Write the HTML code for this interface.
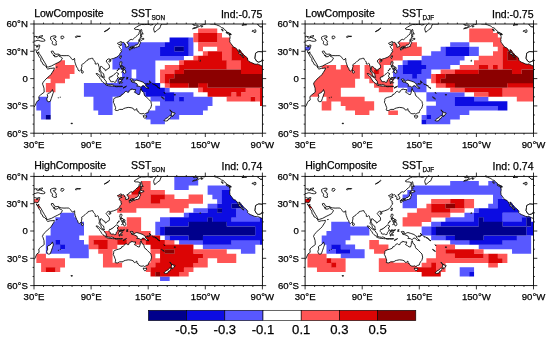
<!DOCTYPE html>
<html><head><meta charset="utf-8"><title>SST composites</title>
<style>
html,body{margin:0;padding:0;background:#fff}
svg{display:block}
text{font-family:"Liberation Sans",Arial,Helvetica,sans-serif;fill:#000;stroke:#000;stroke-width:0.25px}
.tt{font-size:10.5px}
.sb{font-size:6.3px}
.tk{font-size:9.6px}
.cb{font-size:13.1px}
</style></head><body>
<svg width="550" height="340" viewBox="0 0 550 340">
<rect width="550" height="340" fill="#fff"/>
<defs>
<clipPath id="clip"><rect x="0" y="0" width="228.4" height="109.2"/></clipPath>
<g id="land">
<path d="M-9.5 87.4 0.0 83.1 1.0 81.8 2.5 78.3 2.8 77.6 5.1 76.0 4.8 72.6 6.6 70.9 10.2 68.2 10.0 64.2 8.9 60.8 8.4 60.1 9.2 58.2 10.9 56.2 13.3 53.7 15.2 52.3 17.1 50.3 18.1 48.7 19.8 46.0 20.2 45.0 20.3 43.9 18.1 44.3 16.2 44.4 13.8 45.1 12.7 44.1 12.4 43.0 10.5 41.1 9.0 40.5 8.2 38.2 6.9 37.3 6.7 34.6 5.2 32.8 3.8 30.0 2.6 28.2 2.4 27.4 3.4 29.1 4.1 29.3 4.7 27.8 4.8 29.1 6.9 31.9 8.6 35.0 10.5 38.2 12.2 41.0 12.7 43.0 14.3 43.0 17.6 41.9 21.1 40.0 23.8 38.7 26.4 37.3 27.4 35.9 28.4 34.1 27.2 33.1 25.2 32.3 25.1 30.7 24.7 30.9 23.3 32.6 20.6 32.8 20.6 30.9 19.8 32.0 19.2 30.5 17.9 29.1 17.1 27.5 18.0 27.0 19.3 27.3 20.0 29.1 21.9 30.3 24.7 30.0 25.7 31.2 27.6 31.5 30.0 31.7 32.8 31.6 34.8 31.7 35.5 32.2 36.4 33.1 37.1 34.2 38.4 35.7 40.0 35.3 40.5 34.3 40.7 35.5 40.7 37.3 41.2 39.1 41.9 41.1 42.6 43.0 43.6 44.3 44.1 46.0 45.2 47.2 45.9 46.5 46.6 46.1 47.4 45.2 47.5 43.7 47.9 42.6 47.7 40.7 48.7 40.0 49.8 39.4 50.9 38.4 52.3 37.0 53.8 36.2 54.2 35.1 55.4 34.9 56.1 34.8 57.6 34.3 58.8 34.3 59.3 35.8 60.4 36.9 61.2 38.2 61.2 40.0 62.1 40.2 63.6 39.3 64.3 39.8 64.5 41.0 64.9 42.3 65.3 43.7 65.4 45.2 65.0 47.0 66.2 48.4 66.9 49.3 67.3 51.0 67.9 52.0 69.0 52.8 69.9 53.3 70.6 53.3 69.9 52.1 69.9 51.0 69.5 49.6 68.6 49.0 67.6 48.3 67.0 48.0 66.6 46.4 66.0 46.1 66.0 45.0 66.4 43.9 66.6 42.4 67.6 42.5 68.8 43.5 69.5 44.6 70.9 45.0 71.4 46.7 72.8 45.8 73.3 45.0 75.2 44.1 75.5 42.8 75.2 41.0 74.0 39.6 72.8 38.2 72.1 37.0 73.0 35.9 74.2 34.9 75.8 35.0 76.1 36.1 76.6 35.2 77.8 34.9 79.6 34.4 80.9 33.9 82.8 33.1 84.4 32.0 85.4 30.9 86.3 29.1 87.4 27.8 87.6 26.8 86.6 26.4 87.5 25.7 86.5 24.6 85.6 23.3 84.9 22.8 85.9 21.7 88.0 20.9 87.6 20.5 86.4 20.2 84.7 20.7 83.7 19.8 83.5 19.1 84.9 18.7 86.6 17.5 87.6 17.7 86.8 19.1 87.3 19.2 88.5 18.5 89.7 18.3 90.6 19.4 90.1 20.0 91.4 20.3 91.8 21.1 91.6 22.6 91.8 23.3 93.0 22.9 94.4 22.6 94.7 21.4 94.4 20.5 93.5 19.4 92.8 18.4 94.9 17.4 94.9 16.6 95.8 16.1 97.1 15.3 98.5 15.7 100.4 14.1 101.8 12.7 103.3 11.4 105.0 10.0 105.2 8.2 106.0 7.0 105.8 6.1 104.0 5.5 102.3 5.5 101.8 5.6 100.1 4.7 102.3 3.2 105.2 1.4 107.5 0.5 110.4 0.6 113.2 0.3 115.6 0.6 116.6 1.0 119.0 0.5 120.7 -1.4 123.7 -1.4 120.4 2.7 119.6 5.0 120.5 8.2 122.1 7.3 123.7 5.5 125.6 4.5 126.4 2.7 126.9 0.9 128.5 0.0 133.2 0.0 135.1 -1.8 135.1 -7.3 -9.5 -7.3 -9.5 21.3 -2.4 21.2 -1.0 21.7 0.0 21.6 0.6 21.1 1.4 21.3 2.4 21.7 3.4 21.7 4.4 21.1 5.8 21.2 5.7 22.0 5.5 22.8 5.2 23.7 4.8 24.8 4.4 25.7 4.0 26.1 3.0 26.3 2.2 26.2 1.4 25.9 0.3 26.1 -1.0 26.5 -9.5 25.9Z M230.8 42.9 228.4 42.2 226.2 41.2 224.6 40.4 223.5 39.9 222.2 40.3 220.6 40.0 219.0 39.3 217.5 38.6 216.3 38.2 214.8 37.3 213.5 36.0 213.8 35.0 212.8 33.5 211.3 32.0 209.9 31.3 208.5 29.2 207.3 28.2 206.7 27.0 206.0 26.1 204.8 25.7 204.8 26.4 206.0 28.2 206.7 29.1 208.1 30.9 209.1 32.6 209.8 33.6 209.5 33.8 209.1 33.2 207.4 32.1 207.2 30.9 205.8 30.2 204.5 29.3 205.5 28.7 203.8 26.9 203.1 25.6 202.5 24.8 201.4 23.7 199.4 23.2 199.1 22.2 198.0 21.3 197.5 20.2 196.9 19.7 196.3 18.7 195.7 17.8 195.9 16.7 195.6 15.7 196.0 14.0 196.0 12.6 195.4 10.6 197.3 10.7 196.8 9.7 195.3 9.1 193.2 8.2 192.7 7.7 192.2 6.8 190.8 5.9 190.0 5.2 189.4 4.1 187.5 3.6 186.5 2.7 185.1 1.8 184.1 1.5 182.7 0.9 181.1 0.5 179.9 0.0 177.0 0.0 175.1 -0.5 173.2 -0.7 171.9 -0.1 169.6 0.7 169.9 -0.5 168.4 -0.9 168.4 0.5 167.5 1.1 165.6 2.3 163.7 3.2 161.8 4.1 159.9 4.5 158.5 4.8 159.9 3.8 161.3 3.6 163.2 2.7 164.2 1.4 163.2 1.1 161.8 1.2 159.7 1.3 160.1 0.5 158.0 0.0 158.0 -7.3 224.1 -7.3 224.1 0.0 223.9 0.9 224.4 1.1 225.7 2.3 226.1 2.7 228.4 2.8 236.0 3.6 236.0 28.2 228.4 28.0 227.0 27.8 224.8 27.6 223.8 27.9 221.5 29.3 221.4 30.9 221.0 34.3 222.6 37.1 224.2 38.0 226.0 37.7 227.9 36.6 228.1 35.5 228.4 35.3 236.0 35.0 236.0 43.2Z M80.1 74.4 82.6 73.3 84.7 72.8 87.1 71.9 87.8 70.3 89.0 70.3 89.9 69.2 91.2 67.6 92.3 67.3 93.5 68.2 94.7 68.2 95.4 66.4 95.9 65.9 97.5 65.6 97.6 64.9 99.9 65.7 101.6 65.5 101.4 66.9 100.4 68.2 102.3 69.2 104.0 70.5 105.4 70.5 106.2 68.2 106.3 66.0 107.1 64.3 108.0 67.2 109.0 67.6 109.8 68.7 110.4 71.0 110.7 71.8 112.0 72.6 113.5 74.2 115.0 75.7 116.9 77.6 117.3 79.6 117.6 80.7 117.1 82.8 116.6 84.2 115.4 85.4 114.4 87.4 114.2 88.6 112.3 89.1 110.8 90.2 109.3 89.4 108.0 89.9 106.1 89.5 104.5 88.3 104.2 87.2 103.0 86.9 102.8 84.6 101.8 85.5 100.9 86.3 100.2 86.0 99.2 84.4 97.1 83.7 94.2 83.4 91.4 84.0 89.5 84.6 89.0 85.4 85.6 85.4 83.7 86.5 81.8 86.4 80.9 85.8 81.5 84.9 81.6 83.5 80.9 81.9 80.1 79.6 79.3 78.3 79.7 76.4 79.7 75.2Z M109.2 91.6 110.9 92.0 112.5 91.7 112.6 93.0 111.8 93.9 110.6 94.3 109.7 93.3Z M135.8 85.9 137.0 86.7 137.8 88.1 138.8 88.1 139.1 88.8 140.8 88.8 141.1 89.7 139.9 90.4 139.8 91.0 138.9 92.3 138.0 92.4 137.8 91.8 138.2 91.1 137.7 90.8 136.8 90.4 137.6 89.8 137.7 88.5 137.2 87.6 136.1 86.6Z M135.8 91.5 136.9 91.8 137.3 92.6 136.1 93.7 135.9 94.5 134.5 94.9 134.0 96.4 132.9 96.9 131.6 97.0 129.9 96.5 130.9 95.4 131.8 94.6 133.7 93.7 134.7 92.6 135.3 91.9Z M96.1 55.3 97.5 55.0 99.0 55.3 99.2 56.9 99.9 57.6 101.4 56.6 102.8 56.1 105.3 56.9 106.1 57.1 108.0 57.8 109.3 58.2 110.4 59.6 111.8 60.1 112.1 60.7 111.3 60.8 112.1 61.9 112.9 62.8 114.0 63.6 115.0 64.0 114.2 64.3 112.3 63.9 111.3 63.2 110.4 62.1 109.0 61.6 108.0 62.2 107.5 63.0 106.1 63.0 105.2 62.2 103.7 62.1 102.8 62.2 103.5 61.0 102.8 59.6 100.9 58.8 99.0 58.1 98.0 58.2 97.8 57.6 97.1 57.2 98.5 56.9 97.4 56.6 96.3 55.9Z M75.1 53.9 75.8 52.8 77.1 53.1 77.5 52.1 79.0 51.7 79.9 50.5 81.4 49.6 82.5 48.3 83.5 48.9 83.5 49.2 84.9 49.9 83.9 50.6 83.4 51.4 83.6 52.8 84.7 53.7 83.7 53.9 83.3 55.1 82.3 56.0 82.1 57.3 81.8 58.1 80.5 58.3 79.5 57.6 77.8 57.8 76.3 57.2 76.2 56.1 75.2 55.1Z M62.1 49.5 64.2 49.9 65.4 51.2 66.9 52.3 68.0 53.1 69.5 54.0 70.2 54.6 70.9 56.2 72.3 57.3 72.2 59.9 71.6 59.9 70.9 59.7 68.8 58.2 67.6 56.9 66.9 55.4 65.8 54.3 65.4 53.1 64.0 51.7 62.3 50.2Z M71.6 60.8 72.4 60.0 74.5 60.6 76.6 60.9 77.1 60.5 78.7 60.9 80.3 61.6 80.3 62.4 78.5 62.2 76.1 62.0 74.2 61.7 72.7 61.3Z M80.9 62.1 82.8 62.2 84.7 62.2 86.6 62.2 88.5 62.2 88.5 62.6 85.6 62.7 84.2 62.6 82.8 62.8 80.9 62.5Z M89.0 64.0 90.4 63.0 92.5 62.2 91.4 63.1 89.5 64.0Z M85.2 59.6 85.2 57.8 84.5 57.1 85.5 54.6 85.6 53.9 86.6 53.4 88.5 53.8 90.4 53.1 89.9 54.2 87.1 54.1 85.8 54.3 85.7 55.4 87.1 55.4 88.8 55.4 88.4 56.1 87.4 56.3 87.1 57.1 87.8 57.8 88.5 58.7 88.0 59.4 87.4 59.0 86.8 57.8 86.4 57.1 86.0 57.5 86.0 59.6Z M92.8 55.3 92.9 53.0 93.5 53.5 94.0 53.2 93.5 54.3 93.7 55.1 93.2 54.4Z M86.2 37.8 87.7 37.8 88.0 39.1 87.2 40.2 87.2 41.7 88.2 41.9 89.5 42.8 89.6 43.1 88.5 42.1 87.4 42.2 86.2 42.0 86.2 41.1 85.6 40.5 85.9 39.5Z M87.6 48.2 88.9 46.8 90.4 45.8 90.9 45.7 91.6 47.0 91.8 48.2 91.5 48.9 90.8 49.5 89.6 48.9 89.5 47.9 88.4 47.8 87.6 48.3Z M89.7 43.2 90.7 43.2 91.1 44.4 90.6 45.4 90.1 45.3 89.8 44.3Z M87.6 43.9 88.6 44.0 88.8 45.0 89.5 44.4 88.9 46.0 88.1 46.0 88.0 45.0 87.6 45.0Z M83.0 47.0 84.2 46.1 85.2 45.0 85.0 44.3 84.5 45.2 83.4 46.2Z M86.0 42.4 86.9 42.4 87.1 43.3 86.6 43.5 86.3 42.9Z M85.7 33.7 86.6 31.7 87.5 31.9 87.1 33.2 86.4 34.6Z M74.9 37.0 75.7 36.4 77.0 36.4 76.6 37.5 75.7 38.0 74.9 37.7Z M47.4 45.8 48.4 46.5 49.3 47.8 49.1 48.8 48.2 49.2 47.5 48.7 47.4 47.3Z M18.4 65.5 19.4 68.5 18.8 69.9 18.5 71.0 17.3 74.4 16.3 77.3 14.8 77.8 13.3 77.2 12.7 74.9 13.7 72.8 13.3 70.5 14.2 69.3 15.7 68.8 17.0 67.8 17.8 66.7Z M94.9 24.4 96.0 23.8 96.8 24.3 97.1 24.8 96.5 26.0 95.8 26.4 95.4 26.1 95.5 25.0 94.9 24.8Z M97.4 24.1 99.0 23.4 99.6 23.8 99.2 24.3 98.0 24.8 97.5 24.6Z M96.0 23.7 96.1 23.3 97.5 22.4 99.0 22.3 100.7 22.2 101.5 21.1 101.8 20.6 102.1 21.1 103.3 20.7 104.2 19.6 104.7 18.4 104.7 17.7 105.0 17.1 106.0 16.9 106.1 17.7 106.6 18.7 106.1 19.7 105.6 20.2 105.6 21.1 105.3 21.8 105.4 22.1 104.7 22.8 104.5 22.2 103.9 22.6 103.5 23.1 103.0 23.1 101.8 23.1 101.7 23.4 100.9 24.1 100.0 23.8 100.2 23.1 99.0 23.1 97.5 23.4 97.1 23.8Z M104.7 16.8 105.0 15.3 106.0 15.2 106.3 13.4 107.1 13.9 108.8 14.6 109.7 14.3 109.9 15.2 108.5 15.6 107.8 16.4 106.4 15.8 105.6 16.1 105.7 16.6 105.1 16.8Z M106.6 12.7 108.0 12.3 107.5 11.4 107.7 9.7 109.2 10.1 107.8 7.7 107.8 6.4 107.3 5.2 106.8 5.9 106.5 7.3 106.7 9.1 106.6 10.9 106.5 12.3Z M196.5 10.6 194.6 10.2 192.2 8.9 192.0 8.4 193.2 8.4 195.1 9.3 196.3 10.1Z M166.8 2.5 168.0 1.8 169.0 2.1 168.4 2.8 167.3 2.9Z M187.3 5.4 188.7 5.5 189.1 7.1 188.0 6.5Z M112.8 59.6 114.7 59.6 116.1 58.4 116.4 59.1 114.7 60.3 113.2 60.2Z M115.0 57.0 116.4 57.7 117.1 58.9 116.7 58.4 115.6 57.4Z M127.5 72.9 129.0 73.7 130.4 74.9 129.9 75.0 128.5 74.2 127.4 73.2Z M165.6 36.8 166.3 36.2 166.7 36.9 166.0 37.3Z M140.2 70.5 141.4 70.5 141.3 71.2 140.3 71.1Z M36.9 99.3 38.4 99.2 38.4 99.7 37.1 99.7Z M24.1 73.7 24.6 73.8 24.4 74.1Z M26.1 72.9 26.5 73.0 26.3 73.3Z M22.3 43.1 23.3 43.1 22.8 43.4Z M2.2 22.8 2.9 23.1 3.8 22.8 4.4 22.2 2.9 22.5Z M120.4 60.6 122.3 61.5 123.5 62.2 123.2 62.3 121.3 61.4Z M123.4 63.1 124.5 63.5 125.1 64.0 125.9 64.4 124.7 63.9Z M130.0 68.2 130.6 68.8 130.9 69.6 130.4 69.1Z M118.6 59.5 119.8 60.6 119.5 60.9 118.7 60.0Z" fill="#fff" stroke="#000" stroke-width="0.85" stroke-linejoin="round"/>
<path d="M-1.0 17.1 1.2 17.1 3.1 16.4 4.8 16.4 6.2 17.0 8.1 17.3 9.5 17.3 11.0 16.7 10.9 15.9 9.5 15.0 8.1 14.2 7.0 13.9 6.3 13.5 7.1 13.2 7.9 12.6 8.9 11.7 7.6 11.7 6.2 12.1 4.8 12.6 4.8 13.1 6.1 13.3 5.1 13.7 3.8 14.2 3.2 14.0 2.4 13.3 3.4 12.6 1.9 12.5 1.0 12.2 0.0 12.9 -0.3 13.5 -1.2 14.6 -1.9 15.5 -1.9 16.4Z M18.1 12.3 20.0 11.8 21.9 12.0 21.9 13.4 20.2 14.0 19.3 14.3 20.0 15.3 21.4 15.8 21.7 17.0 22.6 17.5 21.9 18.7 22.6 20.7 20.9 21.1 19.3 20.6 18.1 19.7 18.3 18.8 18.6 17.7 17.6 16.6 16.7 15.5 16.7 14.1 16.0 13.7 17.1 12.7Z M26.9 12.5 28.1 12.0 29.5 12.3 30.0 13.2 29.0 14.6 27.6 14.9 26.9 14.1 27.1 13.2Z M41.4 12.7 42.8 12.0 44.7 12.2 46.6 12.2 46.2 12.6 43.8 12.5 42.3 13.4 41.7 13.5Z M70.4 7.7 72.3 6.8 74.2 5.7 75.8 4.1 75.4 3.9 73.8 5.5 71.9 6.7 70.2 7.6Z M228.4 28.0 227.0 27.8 224.8 27.6 223.8 27.9 221.5 29.3 221.4 30.9 221.0 34.3 222.6 37.1 224.2 38.0 226.0 37.7 227.9 36.6 228.1 35.5 228.4 35.3 231.3 35.3 231.3 28.0Z M224.1 0.0 223.9 0.9 224.4 1.1 225.7 2.3 226.1 2.7 228.4 2.8 231.3 2.8 231.3 -1.8 224.1 -1.8Z M220.1 8.6 221.7 8.2 222.0 6.4 220.8 5.6 219.8 6.8Z M218.4 7.7 219.2 6.4 218.9 6.2 218.2 7.3Z M207.9 1.2 210.3 0.6 212.7 0.7 210.3 0.9Z" fill="#fff" stroke="#000" stroke-width="0.85" stroke-linejoin="round"/>
</g>
</defs>
<g transform="translate(34.0 24.0)">
<g clip-path="url(#clip)">
<path fill="#5858ff" d="M154.60 13.60H159.45V18.25H154.60ZM87.98 18.15H130.90V22.80H87.98ZM154.60 18.15H159.45V22.80H154.60ZM87.98 22.70H126.15V27.35H87.98ZM154.60 22.70H159.45V27.35H154.60ZM83.22 27.25H126.15V31.90H83.22ZM154.60 27.25H159.45V31.90H154.60ZM78.46 31.80H149.94V36.45H78.46ZM78.46 36.35H121.39V41.00H78.46ZM78.46 40.90H121.39V45.55H78.46ZM87.98 45.45H97.60V50.10H87.98ZM102.25 45.45H121.39V50.10H102.25ZM87.98 50.00H97.60V54.65H87.98ZM102.25 50.00H121.39V54.65H102.25ZM83.22 54.55H121.39V59.20H83.22ZM49.91 59.10H107.11V63.75H49.91ZM49.91 63.65H107.11V68.30H49.91ZM130.80 63.65H135.66V68.30H130.80ZM49.91 68.20H111.87V72.85H49.91ZM140.32 68.20H159.45V72.85H140.32ZM2.33 72.75H16.70V77.40H2.33ZM59.43 72.75H78.56V77.40H59.43ZM116.53 72.75H130.90V77.40H116.53ZM140.32 72.75H145.18V77.40H140.32ZM149.84 72.75H178.49V77.40H149.84ZM2.33 77.30H16.70V81.95H2.33ZM59.43 77.30H78.56V81.95H59.43ZM126.05 77.30H178.49V81.95H126.05ZM2.33 81.85H16.70V86.50H2.33ZM59.43 81.85H78.56V86.50H59.43ZM121.29 81.85H173.73V86.50H121.29ZM7.09 86.40H16.70V91.05H7.09ZM64.19 86.40H78.56V91.05H64.19ZM111.77 86.40H168.97V91.05H111.77ZM7.09 90.95H11.95V95.60H7.09ZM111.77 90.95H145.18V95.60H111.77ZM116.53 95.50H130.90V100.15H116.53Z"/>
<path fill="#ff5555" d="M164.11 4.50H183.25V9.15H164.11ZM159.35 9.05H164.21V13.70H159.35ZM183.15 9.05H188.00V13.70H183.15ZM159.35 13.60H164.21V18.25H159.35ZM183.15 13.60H197.52V18.25H183.15ZM164.11 18.15H202.28V22.80H164.11ZM164.11 22.70H168.97V27.35H164.11ZM183.15 22.70H197.52V27.35H183.15ZM168.87 27.25H173.73V31.90H168.87ZM187.90 27.25H197.52V31.90H187.90ZM159.35 31.80H164.21V36.45H159.35ZM187.90 31.80H197.52V36.45H187.90ZM21.36 36.35H30.98V41.00H21.36ZM145.08 36.35H149.94V41.00H145.08ZM192.66 36.35H207.04V41.00H192.66ZM21.36 40.90H40.50V45.55H21.36ZM130.80 40.90H145.18V45.55H130.80ZM192.66 40.90H207.04V45.55H192.66ZM16.60 45.45H40.50V50.10H16.60ZM126.05 45.45H140.42V50.10H126.05ZM11.85 50.00H35.74V54.65H11.85ZM126.05 50.00H130.90V54.65H126.05ZM16.60 54.55H30.98V59.20H16.60ZM126.05 54.55H130.90V59.20H126.05ZM11.85 59.10H21.46V63.75H11.85ZM130.80 59.10H135.66V63.75H130.80ZM11.85 63.65H21.46V68.30H11.85ZM164.11 63.65H168.97V68.30H164.11ZM211.70 63.65H226.07V68.30H211.70ZM197.42 68.20H202.28V72.85H197.42ZM206.94 68.20H226.07V72.85H206.94ZM192.66 72.75H216.55V77.40H192.66ZM221.21 72.75H226.07V77.40H221.21Z"/>
<path fill="#0c0ce2" d="M135.56 13.60H154.70V18.25H135.56ZM130.80 18.15H154.70V22.80H130.80ZM126.05 22.70H140.42V27.35H126.05ZM149.84 22.70H154.70V27.35H149.84ZM126.05 27.25H154.70V31.90H126.05ZM107.01 59.10H126.15V63.75H107.01ZM107.01 63.65H130.90V68.30H107.01ZM111.77 68.20H140.42V72.85H111.77ZM130.80 72.75H140.42V77.40H130.80ZM145.08 72.75H149.94V77.40H145.08Z"/>
<path fill="#dc0505" d="M164.11 9.05H183.25V13.70H164.11ZM164.11 13.60H183.25V18.25H164.11ZM197.42 22.70H207.04V27.35H197.42ZM173.63 27.25H188.00V31.90H173.63ZM197.42 27.25H211.80V31.90H197.42ZM164.11 31.80H188.00V36.45H164.11ZM197.42 31.80H216.55V36.45H197.42ZM149.84 36.35H192.76V41.00H149.84ZM206.94 36.35H226.07V41.00H206.94ZM145.08 40.90H192.76V45.55H145.08ZM206.94 40.90H228.45V45.55H206.94ZM140.32 45.45H149.94V50.10H140.32ZM206.94 45.45H228.45V50.10H206.94ZM130.80 50.00H140.42V54.65H130.80ZM130.80 54.55H135.66V59.20H130.80ZM135.56 59.10H149.94V63.75H135.56ZM149.84 59.10H154.70V63.75H149.84ZM164.11 59.10H173.73V63.75H164.11ZM168.87 63.65H211.80V68.30H168.87ZM225.97 63.65H228.45V68.30H225.97ZM173.63 68.20H197.52V72.85H173.63ZM202.18 68.20H207.04V72.85H202.18ZM225.97 68.20H228.45V72.85H225.97ZM216.45 72.75H221.31V77.40H216.45ZM225.97 72.75H228.45V77.40H225.97ZM225.97 77.30H228.45V81.95H225.97Z"/>
<path fill="#00008c" d="M140.32 22.70H149.94V27.35H140.32ZM11.85 90.95H16.70V95.60H11.85Z"/>
<path fill="#8c0000" d="M149.84 45.45H207.04V50.10H149.84ZM140.32 50.00H228.45V54.65H140.32ZM135.56 54.55H228.45V59.20H135.56ZM154.60 59.10H164.21V63.75H154.60ZM173.63 59.10H228.45V63.75H173.63Z"/>
<use href="#land"/>
</g>
<rect x="0" y="0" width="228.4" height="109.2" fill="none" stroke="#000" stroke-width="0.9"/>
<path d="M0.00 0.00v-3.80M0.00 109.20v3.80M9.52 0.00v-1.40M9.52 109.20v1.40M19.03 0.00v-1.40M19.03 109.20v1.40M28.55 0.00v-1.40M28.55 109.20v1.40M38.07 0.00v-1.40M38.07 109.20v1.40M47.58 0.00v-1.40M47.58 109.20v1.40M57.10 0.00v-3.80M57.10 109.20v3.80M66.62 0.00v-1.40M66.62 109.20v1.40M76.13 0.00v-1.40M76.13 109.20v1.40M85.65 0.00v-1.40M85.65 109.20v1.40M95.17 0.00v-1.40M95.17 109.20v1.40M104.68 0.00v-1.40M104.68 109.20v1.40M114.20 0.00v-3.80M114.20 109.20v3.80M123.72 0.00v-1.40M123.72 109.20v1.40M133.23 0.00v-1.40M133.23 109.20v1.40M142.75 0.00v-1.40M142.75 109.20v1.40M152.27 0.00v-1.40M152.27 109.20v1.40M161.78 0.00v-1.40M161.78 109.20v1.40M171.30 0.00v-3.80M171.30 109.20v3.80M180.82 0.00v-1.40M180.82 109.20v1.40M190.33 0.00v-1.40M190.33 109.20v1.40M199.85 0.00v-1.40M199.85 109.20v1.40M209.37 0.00v-1.40M209.37 109.20v1.40M218.88 0.00v-1.40M218.88 109.20v1.40M228.40 0.00v-3.80M228.40 109.20v3.80M0.00 109.20h-3.80M228.40 109.20h3.80M0.00 100.10h-1.40M228.40 100.10h1.40M0.00 91.00h-1.40M228.40 91.00h1.40M0.00 81.90h-3.80M228.40 81.90h3.80M0.00 72.80h-1.40M228.40 72.80h1.40M0.00 63.70h-1.40M228.40 63.70h1.40M0.00 54.60h-3.80M228.40 54.60h3.80M0.00 45.50h-1.40M228.40 45.50h1.40M0.00 36.40h-1.40M228.40 36.40h1.40M0.00 27.30h-3.80M228.40 27.30h3.80M0.00 18.20h-1.40M228.40 18.20h1.40M0.00 9.10h-1.40M228.40 9.10h1.40M0.00 0.00h-3.80M228.40 0.00h3.80" stroke="#000" stroke-width="0.8" fill="none"/>
<text class="tk" x="0.0" y="123.6" text-anchor="middle">30°E</text>
<text class="tk" x="57.1" y="123.6" text-anchor="middle">90°E</text>
<text class="tk" x="114.2" y="123.6" text-anchor="middle">150°E</text>
<text class="tk" x="171.3" y="123.6" text-anchor="middle">150°W</text>
<text class="tk" x="228.4" y="123.6" text-anchor="middle">90°W</text>
<text class="tk" x="-6.2" y="3.4" text-anchor="end">60°N</text>
<text class="tk" x="-6.2" y="30.7" text-anchor="end">30°N</text>
<text class="tk" x="-6.2" y="58.0" text-anchor="end">0</text>
<text class="tk" x="-6.2" y="85.3" text-anchor="end">30°S</text>
<text class="tk" x="-6.2" y="112.6" text-anchor="end">60°S</text>
<text class="tt" x="0.2" y="-7">LowComposite</text>
<text class="tt" x="97.0" y="-7">SST<tspan class="sb" dy="2.6">SON</tspan></text>
<text class="tt" x="228.4" y="-6.2" text-anchor="end">Ind:-0.75</text>
</g>
<g transform="translate(305.1 24.0)">
<g clip-path="url(#clip)">
<path fill="#5858ff" d="M145.08 18.15H164.21V22.80H145.08ZM-0.05 22.70H7.19V27.35H-0.05ZM135.56 22.70H140.42V27.35H135.56ZM164.11 22.70H173.73V27.35H164.11ZM126.05 27.25H140.42V31.90H126.05ZM164.11 27.25H173.73V31.90H164.11ZM116.53 31.80H159.45V36.45H116.53ZM97.50 36.35H102.35V41.00H97.50ZM116.53 36.35H154.70V41.00H116.53ZM92.74 40.90H97.60V45.55H92.74ZM121.29 40.90H145.18V45.55H121.29ZM87.98 45.45H97.60V50.10H87.98ZM116.53 45.45H126.15V50.10H116.53ZM87.98 50.00H107.11V54.65H87.98ZM111.77 50.00H126.15V54.65H111.77ZM92.74 54.55H121.39V59.20H92.74ZM92.74 59.10H121.39V63.75H92.74ZM102.25 63.65H121.39V68.30H102.25ZM121.29 68.20H159.45V72.85H121.29ZM121.29 72.75H149.94V77.40H121.29ZM168.87 72.75H183.25V77.40H168.87ZM130.80 77.30H149.94V81.95H130.80ZM121.29 81.85H192.76V86.50H121.29ZM121.29 86.40H164.21V91.05H121.29ZM116.53 90.95H121.39V95.60H116.53ZM126.05 90.95H154.70V95.60H126.05ZM121.29 95.50H145.18V100.15H121.29Z"/>
<path fill="#ff5555" d="M164.11 4.50H188.00V9.15H164.11ZM164.11 9.05H192.76V13.70H164.11ZM164.11 13.60H197.52V18.25H164.11ZM87.98 18.15H111.87V22.80H87.98ZM187.90 18.15H202.28V22.80H187.90ZM87.98 22.70H116.63V27.35H87.98ZM192.66 22.70H197.52V27.35H192.66ZM83.22 27.25H116.63V31.90H83.22ZM187.90 27.25H197.52V31.90H187.90ZM73.70 31.80H97.60V36.45H73.70ZM173.63 31.80H197.52V36.45H173.63ZM73.70 36.35H88.08V41.00H73.70ZM168.87 36.35H197.52V41.00H168.87ZM16.60 40.90H30.98V45.55H16.60ZM35.64 40.90H45.25V45.55H35.64ZM45.15 40.90H54.77V45.55H45.15ZM59.43 40.90H78.56V45.55H59.43ZM154.60 40.90H173.73V45.55H154.60ZM183.15 40.90H188.00V45.55H183.15ZM192.66 40.90H197.52V45.55H192.66ZM11.85 45.45H54.77V50.10H11.85ZM59.43 45.45H69.05V50.10H59.43ZM73.70 45.45H78.56V50.10H73.70ZM135.56 45.45H149.94V50.10H135.56ZM7.09 50.00H54.77V54.65H7.09ZM59.43 50.00H78.56V54.65H59.43ZM126.05 50.00H130.90V54.65H126.05ZM7.09 54.55H50.01V59.20H7.09ZM64.19 54.55H88.08V59.20H64.19ZM126.05 54.55H130.90V59.20H126.05ZM7.09 59.10H50.01V63.75H7.09ZM68.95 59.10H88.08V63.75H68.95ZM130.80 59.10H140.42V63.75H130.80ZM2.33 63.65H35.74V68.30H2.33ZM73.70 63.65H88.08V68.30H73.70ZM145.08 63.65H159.45V68.30H145.08ZM197.42 63.65H228.45V68.30H197.42ZM2.33 68.20H35.74V72.85H2.33ZM168.87 68.20H183.25V72.85H168.87ZM197.42 68.20H228.45V72.85H197.42ZM21.36 72.75H59.53V77.40H21.36ZM211.70 72.75H228.45V77.40H211.70ZM16.60 77.30H26.22V81.95H16.60ZM35.64 77.30H69.05V81.95H35.64ZM16.60 81.85H26.22V86.50H16.60ZM40.40 81.85H69.05V86.50H40.40ZM49.91 86.40H64.29V91.05H49.91ZM83.22 86.40H92.84V91.05H83.22Z"/>
<path fill="#0c0ce2" d="M140.32 22.70H164.21V27.35H140.32ZM140.32 27.25H164.21V31.90H140.32ZM102.25 36.35H116.63V41.00H102.25ZM97.50 40.90H121.39V45.55H97.50ZM97.50 45.45H116.63V50.10H97.50ZM107.01 50.00H111.87V54.65H107.01ZM149.84 72.75H168.97V77.40H149.84ZM149.84 77.30H202.28V81.95H149.84ZM192.66 81.85H202.28V86.50H192.66ZM121.29 90.95H126.15V95.60H121.29ZM116.53 95.50H121.39V100.15H116.53Z"/>
<path fill="#dc0505" d="M197.42 22.70H211.80V27.35H197.42ZM197.42 27.25H202.28V31.90H197.42ZM211.70 27.25H216.55V31.90H211.70ZM197.42 31.80H202.28V36.45H197.42ZM211.70 31.80H221.31V36.45H211.70ZM197.42 36.35H228.45V41.00H197.42ZM173.63 40.90H183.25V45.55H173.63ZM187.90 40.90H192.76V45.55H187.90ZM197.42 40.90H228.45V45.55H197.42ZM68.95 45.45H73.80V50.10H68.95ZM149.84 45.45H173.73V50.10H149.84ZM206.94 45.45H216.55V50.10H206.94ZM130.80 50.00H140.42V54.65H130.80ZM130.80 54.55H135.66V59.20H130.80ZM140.32 59.10H149.94V63.75H140.32ZM202.18 59.10H228.45V63.75H202.18ZM159.35 63.65H197.52V68.30H159.35ZM183.15 68.20H197.52V72.85H183.15Z"/>
<path fill="#8c0000" d="M202.18 27.25H211.80V31.90H202.18ZM202.18 31.80H211.80V36.45H202.18ZM173.63 45.45H207.04V50.10H173.63ZM216.45 45.45H228.45V50.10H216.45ZM140.32 50.00H228.45V54.65H140.32ZM135.56 54.55H228.45V59.20H135.56ZM149.84 59.10H202.28V63.75H149.84Z"/>
<use href="#land"/>
</g>
<rect x="0" y="0" width="228.4" height="109.2" fill="none" stroke="#000" stroke-width="0.9"/>
<path d="M0.00 0.00v-3.80M0.00 109.20v3.80M9.52 0.00v-1.40M9.52 109.20v1.40M19.03 0.00v-1.40M19.03 109.20v1.40M28.55 0.00v-1.40M28.55 109.20v1.40M38.07 0.00v-1.40M38.07 109.20v1.40M47.58 0.00v-1.40M47.58 109.20v1.40M57.10 0.00v-3.80M57.10 109.20v3.80M66.62 0.00v-1.40M66.62 109.20v1.40M76.13 0.00v-1.40M76.13 109.20v1.40M85.65 0.00v-1.40M85.65 109.20v1.40M95.17 0.00v-1.40M95.17 109.20v1.40M104.68 0.00v-1.40M104.68 109.20v1.40M114.20 0.00v-3.80M114.20 109.20v3.80M123.72 0.00v-1.40M123.72 109.20v1.40M133.23 0.00v-1.40M133.23 109.20v1.40M142.75 0.00v-1.40M142.75 109.20v1.40M152.27 0.00v-1.40M152.27 109.20v1.40M161.78 0.00v-1.40M161.78 109.20v1.40M171.30 0.00v-3.80M171.30 109.20v3.80M180.82 0.00v-1.40M180.82 109.20v1.40M190.33 0.00v-1.40M190.33 109.20v1.40M199.85 0.00v-1.40M199.85 109.20v1.40M209.37 0.00v-1.40M209.37 109.20v1.40M218.88 0.00v-1.40M218.88 109.20v1.40M228.40 0.00v-3.80M228.40 109.20v3.80M0.00 109.20h-3.80M228.40 109.20h3.80M0.00 100.10h-1.40M228.40 100.10h1.40M0.00 91.00h-1.40M228.40 91.00h1.40M0.00 81.90h-3.80M228.40 81.90h3.80M0.00 72.80h-1.40M228.40 72.80h1.40M0.00 63.70h-1.40M228.40 63.70h1.40M0.00 54.60h-3.80M228.40 54.60h3.80M0.00 45.50h-1.40M228.40 45.50h1.40M0.00 36.40h-1.40M228.40 36.40h1.40M0.00 27.30h-3.80M228.40 27.30h3.80M0.00 18.20h-1.40M228.40 18.20h1.40M0.00 9.10h-1.40M228.40 9.10h1.40M0.00 0.00h-3.80M228.40 0.00h3.80" stroke="#000" stroke-width="0.8" fill="none"/>
<text class="tk" x="0.0" y="123.6" text-anchor="middle">30°E</text>
<text class="tk" x="57.1" y="123.6" text-anchor="middle">90°E</text>
<text class="tk" x="114.2" y="123.6" text-anchor="middle">150°E</text>
<text class="tk" x="171.3" y="123.6" text-anchor="middle">150°W</text>
<text class="tk" x="228.4" y="123.6" text-anchor="middle">90°W</text>
<text class="tk" x="-6.2" y="3.4" text-anchor="end">60°N</text>
<text class="tk" x="-6.2" y="30.7" text-anchor="end">30°N</text>
<text class="tk" x="-6.2" y="58.0" text-anchor="end">0</text>
<text class="tk" x="-6.2" y="85.3" text-anchor="end">30°S</text>
<text class="tk" x="-6.2" y="112.6" text-anchor="end">60°S</text>
<text class="tt" x="0.2" y="-7">LowComposite</text>
<text class="tt" x="97.0" y="-7">SST<tspan class="sb" dy="2.6">DJF</tspan></text>
<text class="tt" x="228.4" y="-6.2" text-anchor="end">Ind:-0.75</text>
</g>
<g transform="translate(34.0 176.4)">
<g clip-path="url(#clip)">
<path fill="#5858ff" d="M140.32 -0.05H164.21V4.60H140.32ZM140.32 4.50H164.21V9.15H140.32ZM140.32 9.05H154.70V13.70H140.32ZM173.63 9.05H197.52V13.70H173.63ZM173.63 13.60H188.00V18.25H173.63ZM178.39 18.15H188.00V22.80H178.39ZM183.15 22.70H188.00V27.35H183.15ZM173.63 27.25H183.25V31.90H173.63ZM159.35 31.80H173.73V36.45H159.35ZM202.18 31.80H216.55V36.45H202.18ZM26.12 36.35H40.50V41.00H26.12ZM149.84 36.35H154.70V41.00H149.84ZM202.18 36.35H221.31V41.00H202.18ZM21.36 40.90H45.25V45.55H21.36ZM126.05 40.90H135.66V45.55H126.05ZM197.42 40.90H226.07V45.55H197.42ZM16.60 45.45H50.01V50.10H16.60ZM121.29 45.45H135.66V50.10H121.29ZM16.60 50.00H50.01V54.65H16.60ZM121.29 50.00H126.15V54.65H121.29ZM16.60 54.55H50.01V59.20H16.60ZM121.29 54.55H126.15V59.20H121.29ZM11.85 59.10H45.25V63.75H11.85ZM130.80 59.10H135.66V63.75H130.80ZM11.85 63.65H21.46V68.30H11.85ZM26.12 63.65H50.01V68.30H26.12ZM145.08 63.65H168.97V68.30H145.08ZM197.42 63.65H226.07V68.30H197.42ZM11.85 68.20H26.22V72.85H11.85ZM30.88 68.20H54.77V72.85H30.88ZM168.87 68.20H221.31V72.85H168.87ZM11.85 72.75H54.77V77.40H11.85ZM206.94 72.75H221.31V77.40H206.94ZM35.64 77.30H54.77V81.95H35.64ZM126.05 100.05H135.66V104.70H126.05Z"/>
<path fill="#ff5555" d="M107.01 4.50H116.63V9.15H107.01ZM107.01 9.05H116.63V13.70H107.01ZM107.01 13.60H130.90V18.25H107.01ZM83.22 18.15H116.63V22.80H83.22ZM130.80 18.15H140.42V22.80H130.80ZM154.60 18.15H168.97V22.80H154.60ZM-0.05 22.70H7.19V27.35H-0.05ZM83.22 22.70H116.63V27.35H83.22ZM126.05 22.70H168.97V27.35H126.05ZM2.33 27.25H7.19V31.90H2.33ZM83.22 27.25H154.70V31.90H83.22ZM83.22 31.80H102.35V36.45H83.22ZM135.56 31.80H149.94V36.45H135.56ZM92.74 40.90H107.11V45.55H92.74ZM92.74 45.45H107.11V50.10H92.74ZM83.22 50.00H107.11V54.65H83.22ZM68.95 54.55H116.63V59.20H68.95ZM54.67 59.10H107.11V63.75H54.67ZM54.67 63.65H59.53V68.30H54.67ZM73.70 63.65H83.32V68.30H73.70ZM92.74 63.65H111.87V68.30H92.74ZM130.80 63.65H140.42V68.30H130.80ZM54.67 68.20H64.29V72.85H54.67ZM73.70 68.20H83.32V72.85H73.70ZM64.19 72.75H78.56V77.40H64.19ZM116.53 72.75H126.15V77.40H116.53ZM159.35 72.75H192.76V77.40H159.35ZM2.33 77.30H11.95V81.95H2.33ZM68.95 77.30H78.56V81.95H68.95ZM116.53 77.30H121.39V81.95H116.53ZM168.87 77.30H202.28V81.95H168.87ZM2.33 81.85H30.98V86.50H2.33ZM68.95 81.85H78.56V86.50H68.95ZM116.53 81.85H126.15V86.50H116.53ZM164.11 81.85H173.73V86.50H164.11ZM183.15 81.85H202.28V86.50H183.15ZM7.09 86.40H30.98V91.05H7.09ZM68.95 86.40H88.08V91.05H68.95ZM111.77 86.40H121.39V91.05H111.77ZM159.35 86.40H173.73V91.05H159.35ZM7.09 90.95H11.95V95.60H7.09ZM21.36 90.95H26.22V95.60H21.36ZM111.77 90.95H116.63V95.60H111.77ZM149.84 90.95H159.45V95.60H149.84ZM145.08 95.50H154.70V100.15H145.08Z"/>
<path fill="#0c0ce2" d="M187.90 13.60H197.52V18.25H187.90ZM187.90 18.15H202.28V22.80H187.90ZM187.90 22.70H211.80V27.35H187.90ZM183.15 27.25H197.52V31.90H183.15ZM206.94 27.25H211.80V31.90H206.94ZM173.63 31.80H183.25V36.45H173.63ZM187.90 31.80H202.28V36.45H187.90ZM154.60 36.35H202.28V41.00H154.60ZM135.56 40.90H173.73V45.55H135.56ZM178.39 40.90H197.52V45.55H178.39ZM225.97 40.90H228.45V45.55H225.97ZM135.56 45.45H154.70V50.10H135.56ZM192.66 45.45H228.45V50.10H192.66ZM126.05 50.00H130.90V54.65H126.05ZM221.21 50.00H228.45V54.65H221.21ZM126.05 54.55H130.90V59.20H126.05ZM221.21 54.55H228.45V59.20H221.21ZM135.56 59.10H154.70V63.75H135.56ZM168.87 59.10H228.45V63.75H168.87ZM21.36 63.65H26.22V68.30H21.36ZM168.87 63.65H197.52V68.30H168.87ZM225.97 63.65H228.45V68.30H225.97ZM26.12 68.20H30.98V72.85H26.12Z"/>
<path fill="#dc0505" d="M102.25 9.05H107.11V13.70H102.25ZM97.50 13.60H107.11V18.25H97.50ZM116.53 18.15H130.90V22.80H116.53ZM116.53 22.70H126.15V27.35H116.53ZM107.01 59.10H126.15V63.75H107.01ZM59.43 63.65H73.80V68.30H59.43ZM83.22 63.65H92.84V68.30H83.22ZM111.77 63.65H130.90V68.30H111.77ZM64.19 68.20H73.80V72.85H64.19ZM116.53 68.20H159.45V72.85H116.53ZM126.05 72.75H130.90V77.40H126.05ZM140.32 72.75H159.45V77.40H140.32ZM126.05 77.30H168.97V81.95H126.05ZM126.05 81.85H164.21V86.50H126.05ZM121.29 86.40H159.45V91.05H121.29ZM11.85 90.95H21.46V95.60H11.85ZM116.53 90.95H149.94V95.60H116.53ZM116.53 95.50H121.39V100.15H116.53ZM126.05 95.50H145.18V100.15H126.05Z"/>
<path fill="#00008c" d="M197.42 27.25H207.04V31.90H197.42ZM183.15 31.80H188.00V36.45H183.15ZM173.63 40.90H178.49V45.55H173.63ZM154.60 45.45H192.76V50.10H154.60ZM130.80 50.00H221.31V54.65H130.80ZM130.80 54.55H221.31V59.20H130.80ZM154.60 59.10H168.97V63.75H154.60Z"/>
<path fill="#8c0000" d="M130.80 72.75H140.42V77.40H130.80ZM121.29 95.50H126.15V100.15H121.29Z"/>
<use href="#land"/>
</g>
<rect x="0" y="0" width="228.4" height="109.2" fill="none" stroke="#000" stroke-width="0.9"/>
<path d="M0.00 0.00v-3.80M0.00 109.20v3.80M9.52 0.00v-1.40M9.52 109.20v1.40M19.03 0.00v-1.40M19.03 109.20v1.40M28.55 0.00v-1.40M28.55 109.20v1.40M38.07 0.00v-1.40M38.07 109.20v1.40M47.58 0.00v-1.40M47.58 109.20v1.40M57.10 0.00v-3.80M57.10 109.20v3.80M66.62 0.00v-1.40M66.62 109.20v1.40M76.13 0.00v-1.40M76.13 109.20v1.40M85.65 0.00v-1.40M85.65 109.20v1.40M95.17 0.00v-1.40M95.17 109.20v1.40M104.68 0.00v-1.40M104.68 109.20v1.40M114.20 0.00v-3.80M114.20 109.20v3.80M123.72 0.00v-1.40M123.72 109.20v1.40M133.23 0.00v-1.40M133.23 109.20v1.40M142.75 0.00v-1.40M142.75 109.20v1.40M152.27 0.00v-1.40M152.27 109.20v1.40M161.78 0.00v-1.40M161.78 109.20v1.40M171.30 0.00v-3.80M171.30 109.20v3.80M180.82 0.00v-1.40M180.82 109.20v1.40M190.33 0.00v-1.40M190.33 109.20v1.40M199.85 0.00v-1.40M199.85 109.20v1.40M209.37 0.00v-1.40M209.37 109.20v1.40M218.88 0.00v-1.40M218.88 109.20v1.40M228.40 0.00v-3.80M228.40 109.20v3.80M0.00 109.20h-3.80M228.40 109.20h3.80M0.00 100.10h-1.40M228.40 100.10h1.40M0.00 91.00h-1.40M228.40 91.00h1.40M0.00 81.90h-3.80M228.40 81.90h3.80M0.00 72.80h-1.40M228.40 72.80h1.40M0.00 63.70h-1.40M228.40 63.70h1.40M0.00 54.60h-3.80M228.40 54.60h3.80M0.00 45.50h-1.40M228.40 45.50h1.40M0.00 36.40h-1.40M228.40 36.40h1.40M0.00 27.30h-3.80M228.40 27.30h3.80M0.00 18.20h-1.40M228.40 18.20h1.40M0.00 9.10h-1.40M228.40 9.10h1.40M0.00 0.00h-3.80M228.40 0.00h3.80" stroke="#000" stroke-width="0.8" fill="none"/>
<text class="tk" x="0.0" y="123.6" text-anchor="middle">30°E</text>
<text class="tk" x="57.1" y="123.6" text-anchor="middle">90°E</text>
<text class="tk" x="114.2" y="123.6" text-anchor="middle">150°E</text>
<text class="tk" x="171.3" y="123.6" text-anchor="middle">150°W</text>
<text class="tk" x="228.4" y="123.6" text-anchor="middle">90°W</text>
<text class="tk" x="-6.2" y="3.4" text-anchor="end">60°N</text>
<text class="tk" x="-6.2" y="30.7" text-anchor="end">30°N</text>
<text class="tk" x="-6.2" y="58.0" text-anchor="end">0</text>
<text class="tk" x="-6.2" y="85.3" text-anchor="end">30°S</text>
<text class="tk" x="-6.2" y="112.6" text-anchor="end">60°S</text>
<text class="tt" x="0.2" y="-7">HighComposite</text>
<text class="tt" x="97.0" y="-7">SST<tspan class="sb" dy="2.6">SON</tspan></text>
<text class="tt" x="228.4" y="-6.2" text-anchor="end">Ind: 0.74</text>
</g>
<g transform="translate(305.1 176.4)">
<g clip-path="url(#clip)">
<path fill="#5858ff" d="M145.08 4.50H173.73V9.15H145.08ZM183.15 4.50H192.76V9.15H183.15ZM107.01 9.05H197.52V13.70H107.01ZM102.25 13.60H197.52V18.25H102.25ZM97.50 18.15H111.87V22.80H97.50ZM187.90 18.15H197.52V22.80H187.90ZM97.50 22.70H111.87V27.35H97.50ZM187.90 22.70H192.76V27.35H187.90ZM97.50 27.25H111.87V31.90H97.50ZM183.15 27.25H192.76V31.90H183.15ZM168.87 31.80H173.73V36.45H168.87ZM159.35 36.35H168.97V41.00H159.35ZM197.42 36.35H221.31V41.00H197.42ZM140.32 40.90H168.97V45.55H140.32ZM197.42 40.90H216.55V45.55H197.42ZM26.12 45.45H45.25V50.10H26.12ZM126.05 45.45H135.66V50.10H126.05ZM26.12 50.00H64.29V54.65H26.12ZM116.53 50.00H126.15V54.65H116.53ZM21.36 54.55H64.29V59.20H21.36ZM116.53 54.55H126.15V59.20H116.53ZM16.60 59.10H45.25V63.75H16.60ZM126.05 59.10H140.42V63.75H126.05ZM211.70 59.10H226.07V63.75H211.70ZM16.60 63.65H40.50V68.30H16.60ZM145.08 63.65H164.21V68.30H145.08ZM197.42 63.65H226.07V68.30H197.42ZM21.36 68.20H26.22V72.85H21.36ZM35.64 68.20H50.01V72.85H35.64ZM173.63 68.20H226.07V72.85H173.63ZM21.36 72.75H30.98V77.40H21.36ZM45.15 72.75H59.53V77.40H45.15ZM206.94 72.75H226.07V77.40H206.94ZM35.64 77.30H59.53V81.95H35.64ZM154.60 90.95H168.97V95.60H154.60ZM154.60 95.50H164.21V100.15H154.60Z"/>
<path fill="#ff5555" d="M126.05 22.70H145.18V27.35H126.05ZM159.35 22.70H168.97V27.35H159.35ZM121.29 27.25H126.15V31.90H121.29ZM159.35 27.25H168.97V31.90H159.35ZM111.77 31.80H126.15V36.45H111.77ZM145.08 31.80H159.45V36.45H145.08ZM102.25 36.35H145.18V41.00H102.25ZM97.50 40.90H126.15V45.55H97.50ZM97.50 45.45H116.63V50.10H97.50ZM64.19 63.65H73.80V68.30H64.19ZM64.19 68.20H83.32V72.85H64.19ZM130.80 68.20H149.94V72.85H130.80ZM68.95 72.75H83.32V77.40H68.95ZM130.80 72.75H140.42V77.40H130.80ZM168.87 72.75H178.49V77.40H168.87ZM2.33 77.30H21.46V81.95H2.33ZM130.80 77.30H149.94V81.95H130.80ZM178.39 77.30H183.25V81.95H178.39ZM192.66 77.30H202.28V81.95H192.66ZM2.33 81.85H21.46V86.50H2.33ZM26.12 81.85H40.50V86.50H26.12ZM73.70 81.85H88.08V86.50H73.70ZM121.29 81.85H183.25V86.50H121.29ZM197.42 81.85H202.28V86.50H197.42ZM2.33 86.40H26.22V91.05H2.33ZM30.88 86.40H40.50V91.05H30.88ZM73.70 86.40H111.87V91.05H73.70ZM116.53 86.40H126.15V91.05H116.53ZM130.80 86.40H140.42V91.05H130.80ZM183.15 86.40H192.76V91.05H183.15ZM11.85 90.95H40.50V95.60H11.85ZM73.70 90.95H111.87V95.60H73.70ZM130.80 90.95H140.42V95.60H130.80Z"/>
<path fill="#0c0ce2" d="M192.66 22.70H207.04V27.35H192.66ZM192.66 27.25H211.80V31.90H192.66ZM173.63 31.80H216.55V36.45H173.63ZM168.87 36.35H197.52V41.00H168.87ZM221.21 36.35H226.07V41.00H221.21ZM168.87 40.90H173.73V45.55H168.87ZM178.39 40.90H197.52V45.55H178.39ZM216.45 40.90H221.31V45.55H216.45ZM135.56 45.45H173.73V50.10H135.56ZM197.42 45.45H221.31V50.10H197.42ZM225.97 45.45H228.45V50.10H225.97ZM126.05 50.00H130.90V54.65H126.05ZM221.21 50.00H228.45V54.65H221.21ZM126.05 54.55H130.90V59.20H126.05ZM221.21 54.55H228.45V59.20H221.21ZM140.32 59.10H149.94V63.75H140.32ZM178.39 59.10H211.80V63.75H178.39ZM164.11 63.65H197.52V68.30H164.11ZM26.12 68.20H35.74V72.85H26.12ZM30.88 72.75H45.25V77.40H30.88ZM164.11 95.50H168.97V100.15H164.11Z"/>
<path fill="#dc0505" d="M-0.05 22.70H7.19V27.35H-0.05ZM145.08 22.70H159.45V27.35H145.08ZM2.33 27.25H7.19V31.90H2.33ZM126.05 27.25H140.42V31.90H126.05ZM149.84 27.25H159.45V31.90H149.84ZM126.05 31.80H145.18V36.45H126.05ZM140.32 72.75H168.97V77.40H140.32ZM149.84 77.30H178.49V81.95H149.84ZM183.15 77.30H192.76V81.95H183.15ZM21.36 81.85H26.22V86.50H21.36ZM183.15 81.85H197.52V86.50H183.15ZM26.12 86.40H30.98V91.05H26.12ZM126.05 86.40H130.90V91.05H126.05ZM111.77 90.95H130.90V95.60H111.77ZM116.53 95.50H135.66V100.15H116.53Z"/>
<path fill="#00008c" d="M173.63 40.90H178.49V45.55H173.63ZM221.21 40.90H226.07V45.55H221.21ZM173.63 45.45H197.52V50.10H173.63ZM221.21 45.45H226.07V50.10H221.21ZM130.80 50.00H221.31V54.65H130.80ZM130.80 54.55H221.31V59.20H130.80ZM149.84 59.10H178.49V63.75H149.84Z"/>
<path fill="#8c0000" d="M140.32 27.25H149.94V31.90H140.32Z"/>
<use href="#land"/>
</g>
<rect x="0" y="0" width="228.4" height="109.2" fill="none" stroke="#000" stroke-width="0.9"/>
<path d="M0.00 0.00v-3.80M0.00 109.20v3.80M9.52 0.00v-1.40M9.52 109.20v1.40M19.03 0.00v-1.40M19.03 109.20v1.40M28.55 0.00v-1.40M28.55 109.20v1.40M38.07 0.00v-1.40M38.07 109.20v1.40M47.58 0.00v-1.40M47.58 109.20v1.40M57.10 0.00v-3.80M57.10 109.20v3.80M66.62 0.00v-1.40M66.62 109.20v1.40M76.13 0.00v-1.40M76.13 109.20v1.40M85.65 0.00v-1.40M85.65 109.20v1.40M95.17 0.00v-1.40M95.17 109.20v1.40M104.68 0.00v-1.40M104.68 109.20v1.40M114.20 0.00v-3.80M114.20 109.20v3.80M123.72 0.00v-1.40M123.72 109.20v1.40M133.23 0.00v-1.40M133.23 109.20v1.40M142.75 0.00v-1.40M142.75 109.20v1.40M152.27 0.00v-1.40M152.27 109.20v1.40M161.78 0.00v-1.40M161.78 109.20v1.40M171.30 0.00v-3.80M171.30 109.20v3.80M180.82 0.00v-1.40M180.82 109.20v1.40M190.33 0.00v-1.40M190.33 109.20v1.40M199.85 0.00v-1.40M199.85 109.20v1.40M209.37 0.00v-1.40M209.37 109.20v1.40M218.88 0.00v-1.40M218.88 109.20v1.40M228.40 0.00v-3.80M228.40 109.20v3.80M0.00 109.20h-3.80M228.40 109.20h3.80M0.00 100.10h-1.40M228.40 100.10h1.40M0.00 91.00h-1.40M228.40 91.00h1.40M0.00 81.90h-3.80M228.40 81.90h3.80M0.00 72.80h-1.40M228.40 72.80h1.40M0.00 63.70h-1.40M228.40 63.70h1.40M0.00 54.60h-3.80M228.40 54.60h3.80M0.00 45.50h-1.40M228.40 45.50h1.40M0.00 36.40h-1.40M228.40 36.40h1.40M0.00 27.30h-3.80M228.40 27.30h3.80M0.00 18.20h-1.40M228.40 18.20h1.40M0.00 9.10h-1.40M228.40 9.10h1.40M0.00 0.00h-3.80M228.40 0.00h3.80" stroke="#000" stroke-width="0.8" fill="none"/>
<text class="tk" x="0.0" y="123.6" text-anchor="middle">30°E</text>
<text class="tk" x="57.1" y="123.6" text-anchor="middle">90°E</text>
<text class="tk" x="114.2" y="123.6" text-anchor="middle">150°E</text>
<text class="tk" x="171.3" y="123.6" text-anchor="middle">150°W</text>
<text class="tk" x="228.4" y="123.6" text-anchor="middle">90°W</text>
<text class="tk" x="-6.2" y="3.4" text-anchor="end">60°N</text>
<text class="tk" x="-6.2" y="30.7" text-anchor="end">30°N</text>
<text class="tk" x="-6.2" y="58.0" text-anchor="end">0</text>
<text class="tk" x="-6.2" y="85.3" text-anchor="end">30°S</text>
<text class="tk" x="-6.2" y="112.6" text-anchor="end">60°S</text>
<text class="tt" x="0.2" y="-7">HighComposite</text>
<text class="tt" x="97.0" y="-7">SST<tspan class="sb" dy="2.6">DJF</tspan></text>
<text class="tt" x="228.4" y="-6.2" text-anchor="end">Ind: 0.74</text>
</g>
<rect x="148.4" y="310.3" width="38.2" height="10.3" fill="#00008c" stroke="#000" stroke-width="0.6"/>
<rect x="186.6" y="310.3" width="38.2" height="10.3" fill="#0c0ce2" stroke="#000" stroke-width="0.6"/>
<rect x="224.8" y="310.3" width="38.2" height="10.3" fill="#5858ff" stroke="#000" stroke-width="0.6"/>
<rect x="263.0" y="310.3" width="38.2" height="10.3" fill="#ffffff" stroke="#000" stroke-width="0.6"/>
<rect x="301.2" y="310.3" width="38.2" height="10.3" fill="#ff5555" stroke="#000" stroke-width="0.6"/>
<rect x="339.4" y="310.3" width="38.2" height="10.3" fill="#dc0505" stroke="#000" stroke-width="0.6"/>
<rect x="377.6" y="310.3" width="38.2" height="10.3" fill="#8c0000" stroke="#000" stroke-width="0.6"/>
<text class="cb" x="186.6" y="333.8" text-anchor="middle">-0.5</text>
<text class="cb" x="224.8" y="333.8" text-anchor="middle">-0.3</text>
<text class="cb" x="263.0" y="333.8" text-anchor="middle">-0.1</text>
<text class="cb" x="301.2" y="333.8" text-anchor="middle">0.1</text>
<text class="cb" x="339.4" y="333.8" text-anchor="middle">0.3</text>
<text class="cb" x="377.6" y="333.8" text-anchor="middle">0.5</text>
</svg></body></html>
